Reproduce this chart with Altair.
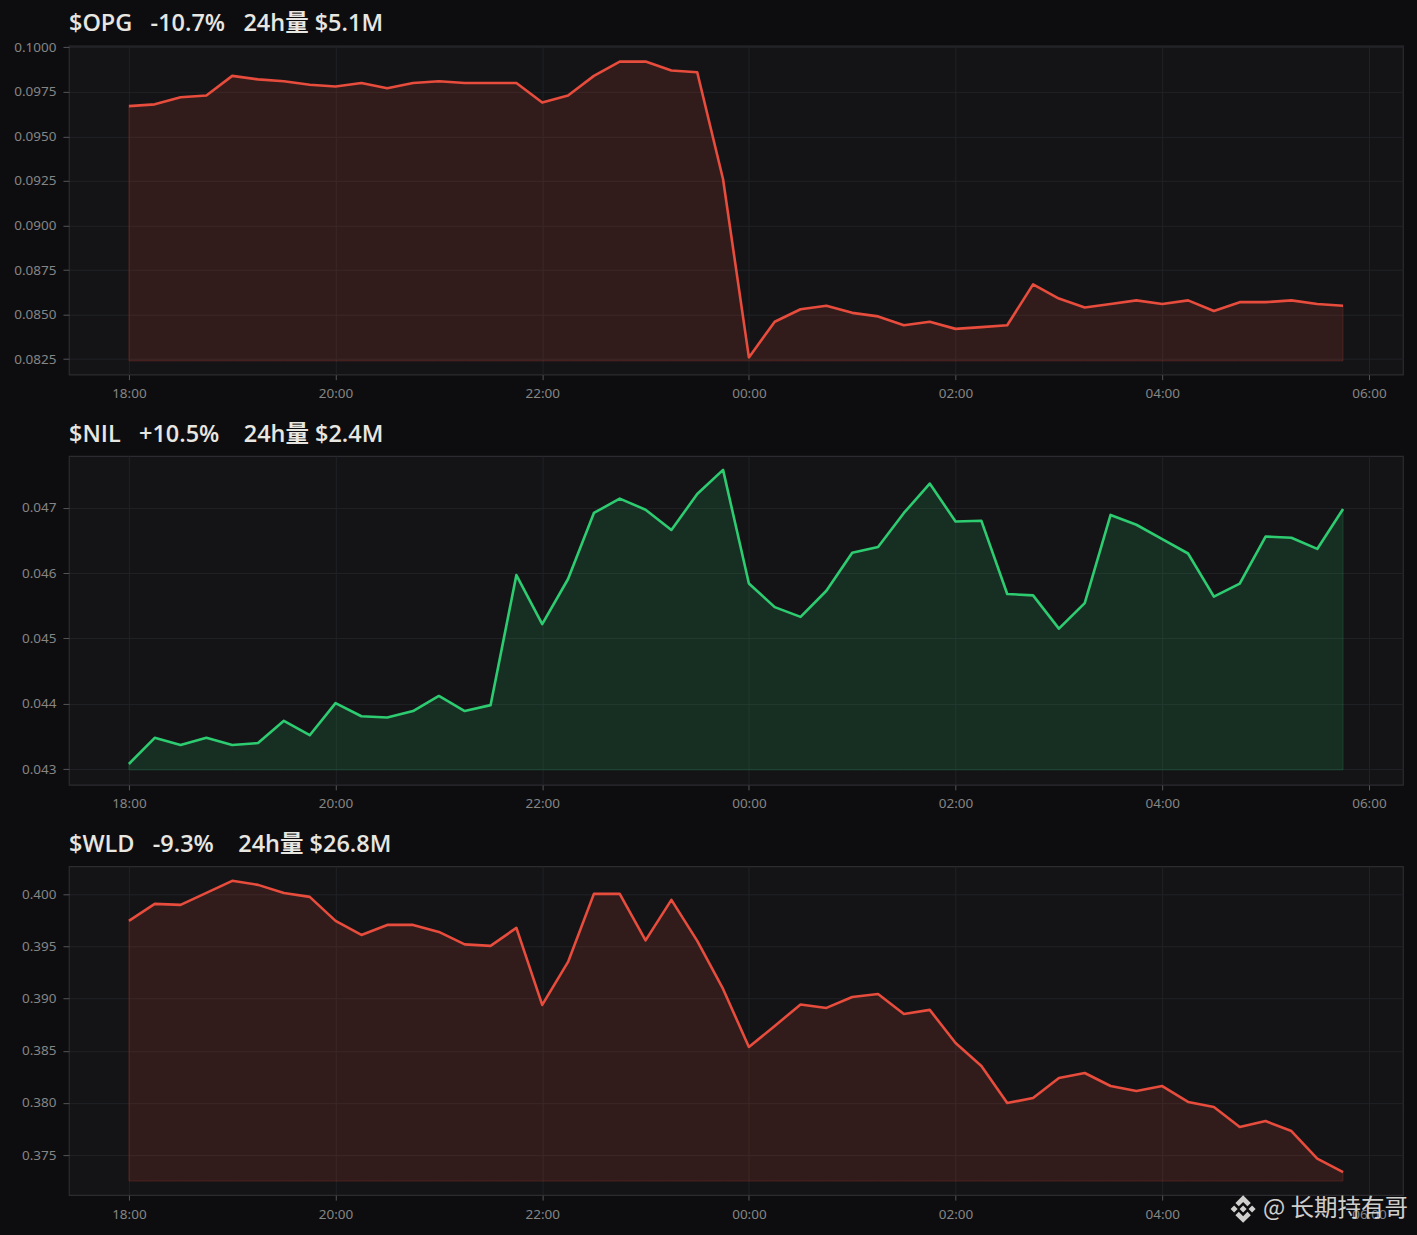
import altair as alt
import pandas as pd

opg = [0.0967,0.0968,0.0972,0.0973,0.0984,0.0982,0.0981,0.0979,0.0978,0.0980,0.0977,0.0980,0.0981,0.0980,0.0980,0.0980,
       0.0969,0.0973,0.0984,0.0992,0.0992,0.0987,0.0986,0.0926,0.0826,0.0846,0.0853,0.0855,0.0851,0.0849,0.0844,0.0846,
       0.0842,0.0843,0.0844,0.0867,0.0859,0.0854,0.0856,0.0858,0.0856,0.0858,0.0852,0.0857,0.0857,0.0858,0.0856,0.0855]
nil = [.04308,.04348,.04337,.04348,.04337,.04340,.04374,.04352,.04401,.04381,.04379,.04389,.04412,.04389,.04398,.04597,
       .04522,.04591,.04692,.04714,.04697,.04666,.04721,.04758,.04584,.04548,.04533,.04573,.04631,.04640,.04692,.04737,
       .04679,.04680,.04568,.04566,.04515,.04554,.04689,.04674,.04652,.04630,.04564,.04584,.04656,.04654,.04637,.04698]
wld = [.39746,.39909,.39899,.40014,.40130,.40091,.40014,.39976,.39746,.39611,.39707,.39707,.39640,.39520,.39506,.39679,
       .38940,.39352,.40005,.40005,.39559,.39947,.39554,.39093,.38536,.38738,.38944,.38911,.39016,.39045,.38853,.38892,
       .38575,.38354,.37999,.38047,.38239,.38287,.38162,.38114,.38162,.38009,.37961,.37769,.37826,.37730,.37466,.37337]

titles = ["$OPG\u00a0\u00a0\u00a0-10.7%\u00a0\u00a0\u00a024h量 $5.1M",
          "$NIL\u00a0\u00a0\u00a0+10.5%\u00a0\u00a0\u00a0\u00a024h量 $2.4M",
          "$WLD\u00a0\u00a0\u00a0-9.3%\u00a0\u00a0\u00a0\u00a024h量 $26.8M"]
RED, GREEN = "#e74c3c", "#2ecc71"
BG, PANEL, GRID, EDGE = "#0d0d0f", "#141417", "#212225", "#2c2c30"
TICK = "#858585"
TITLE_FONT = "Open Sans, Noto Sans CJK SC"
LATIN = "Noto Sans, Noto Sans CJK SC"
CJK = "Noto Sans CJK SC"
minutes = [15 * i for i in range(48)]
X_MINUTES = [0, 120, 240, 360, 480, 600, 720]
X_DOMAIN = [-34.8, 739.8]
W, H = 1335, 329
LABEL_EXPR = "{0:'18:00',120:'20:00',240:'22:00',360:'00:00',480:'02:00',600:'04:00',720:'06:00'}[datum.value]"

LOGO = ("M0,-.22L.22,0L0,.22L-.22,0Z M-.78,0L-.56,-.22L-.34,0L-.56,.22Z M.78,0L.56,-.22L.34,0L.56,.22Z "
        "M0,-.86L.48,-.38L.27,-.17L0,-.44L-.27,-.17L-.48,-.38Z M0,.86L.48,.38L.27,.17L0,.44L-.27,.17L-.48,.38Z")


def panel(values, title, color, ydomain, yticks, fmt, base, offset, extra=()):
    df = pd.DataFrame({"t": minutes, "v": values, "base": base})
    x = alt.X("t:Q", scale=alt.Scale(domain=X_DOMAIN, nice=False, zero=False),
              axis=alt.Axis(values=X_MINUTES, labelExpr=LABEL_EXPR, title=None,
                            labelFontSize=13.5, labelColor=TICK, labelFont=LATIN, labelPadding=7,
                            tickColor="#555558", tickSize=5, gridColor=GRID, domain=False))
    y = alt.Y("v:Q", scale=alt.Scale(domain=ydomain, nice=False, zero=False),
              axis=alt.Axis(values=yticks, format=fmt, title=None, labelFontSize=13.5, labelColor=TICK, labelFont=LATIN,
                            labelPadding=7, tickColor="#555558", tickSize=6, gridColor=GRID, domain=False,
                            minExtent=60, maxExtent=60))
    area = alt.Chart(df).mark_area(color=color, fillOpacity=0.14, stroke=color, strokeOpacity=0.2, strokeWidth=1).encode(
        x=x, y=y, y2="base:Q")
    line = alt.Chart(df).mark_line(color=color, strokeWidth=2.6, strokeJoin="round").encode(x=x, y=y)
    return alt.layer(area, line, *extra).properties(
        width=W, height=H,
        title=alt.TitleParams(title, anchor="start", font=TITLE_FONT, fontSize=23.5, fontWeight=600, color="#e8e6e1",
                              offset=offset, frame="group"))


mark_text = alt.Chart(pd.DataFrame({"s": ["@ 长期持有哥"]})).mark_text(
    align="left", baseline="middle", font=CJK, fontSize=23.5, color="#e4e4e2", opacity=0.9).encode(
    text="s:N", x=alt.value(1195), y=alt.value(343))
mark_logo = alt.Chart(pd.DataFrame({"s": [1]})).mark_point(
    shape=LOGO, filled=True, size=1030, color="#e4e4e2", opacity=0.9).encode(x=alt.value(1175), y=alt.value(343))

p1 = panel(opg, titles[0], RED, [0.08163, 0.10008],
           [0.0825, 0.0850, 0.0875, 0.0900, 0.0925, 0.0950, 0.0975, 0.1000], ".4f", 0.0824, 5)
p2 = panel(nil, titles[1], GREEN, [0.04276, 0.04779], [0.043, 0.044, 0.045, 0.046, 0.047], ".3f", 0.04299, 10)
p3 = panel(wld, titles[2], RED, [0.37116, 0.40269], [0.375, 0.380, 0.385, 0.390, 0.395, 0.400], ".3f", 0.3725, 10,
           extra=(mark_text, mark_logo))

chart = alt.vconcat(p1, p2, p3, spacing=19.5, background=BG).configure_view(
    fill=PANEL, stroke=EDGE, strokeWidth=1.2).configure_axis(gridWidth=1, tickWidth=1).properties(
    padding={"left": 0, "top": 2.5, "right": 0, "bottom": 0})

chart.save("out.html", embed_options={"renderer": "svg", "actions": False,
                                      "defaultStyle": "html,body{background:#0d0d0f}.vega-embed{display:inline-block}"})
